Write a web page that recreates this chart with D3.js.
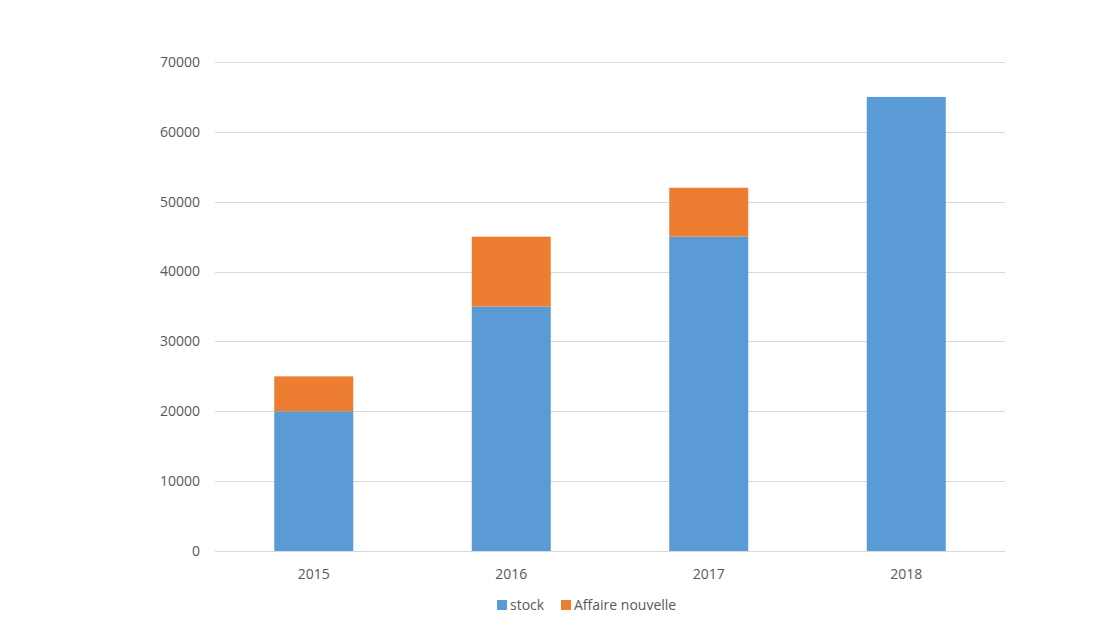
<!DOCTYPE html>
<html>
<head>
<meta charset="utf-8">
<script src="https://cdn.jsdelivr.net/npm/d3@7"></script>
<style>
  body { margin: 0; background: #fff; }
  text { font-family: "Open Sans", "Liberation Sans", sans-serif; fill: #595959; }
</style>
</head>
<body>
<div id="chart"></div>
<script>
// chart data
const years = ["2015", "2016", "2017", "2018"];
const stock = [20000, 35000, 45000, 65000];
const affaireNouvelle = [5000, 10000, 7000, 0];
const yTicks = [0, 10000, 20000, 30000, 40000, 50000, 60000, 70000];
const seriesNames = ["stock", "Affaire nouvelle"];
const colors = ["#5b9bd5", "#ed7d31"];

const width = 1095, height = 639;
const margin = { top: 62, right: 90, bottom: 88, left: 215 };

const svg = d3.select("#chart").append("svg")
  .attr("width", width)
  .attr("height", height);

const x = d3.scaleBand()
  .domain(years)
  .range([margin.left, width - margin.right])
  .paddingInner(0.6)
  .paddingOuter(0.3);

const y = d3.scaleLinear()
  .domain([0, 70000])
  .range([height - margin.bottom, margin.top]);

// gridlines
svg.append("g")
  .selectAll("line")
  .data(yTicks)
  .join("line")
  .attr("x1", margin.left)
  .attr("x2", width - margin.right)
  .attr("y1", d => Math.round(y(d)) + 0.5)
  .attr("y2", d => Math.round(y(d)) + 0.5)
  .attr("stroke", "#d9d9d9")
  .attr("stroke-width", 1);

// y tick labels
svg.append("g")
  .selectAll("text")
  .data(yTicks)
  .join("text")
  .attr("x", 200)
  .attr("y", d => y(d))
  .attr("dy", "0.35em")
  .attr("text-anchor", "end")
  .style("font-size", "14px")
  .text(d => d);

// stacked bars
const rows = years.map((yr, i) => ({ year: yr, stock: stock[i], affaire: affaireNouvelle[i] }));
const stacked = d3.stack().keys(["stock", "affaire"])(rows);

svg.append("g")
  .selectAll("g")
  .data(stacked)
  .join("g")
  .attr("fill", (d, i) => colors[i])
  .selectAll("rect")
  .data(d => d)
  .join("rect")
  .attr("x", d => x(d.data.year))
  .attr("width", x.bandwidth())
  .attr("y", d => y(d[1]))
  .attr("height", d => y(d[0]) - y(d[1]));

// x labels
svg.append("g")
  .selectAll("text")
  .data(years)
  .join("text")
  .attr("x", d => x(d) + x.bandwidth() / 2)
  .attr("y", height - margin.bottom + 28)
  .attr("text-anchor", "middle")
  .style("font-size", "14px")
  .text(d => d);

// legend
const legendItems = [
  { name: seriesNames[0], color: colors[0], x: 497 },
  { name: seriesNames[1], color: colors[1], x: 561 }
];
const legend = svg.append("g");
legend.selectAll("rect")
  .data(legendItems)
  .join("rect")
  .attr("x", d => d.x)
  .attr("y", 600)
  .attr("width", 10)
  .attr("height", 10)
  .attr("fill", d => d.color);
legend.selectAll("text")
  .data(legendItems)
  .join("text")
  .attr("x", d => d.x + 13)
  .attr("y", 605)
  .attr("dy", "0.35em")
  .style("font-size", "14px")
  .text(d => d.name);
</script>
</body>
</html>
